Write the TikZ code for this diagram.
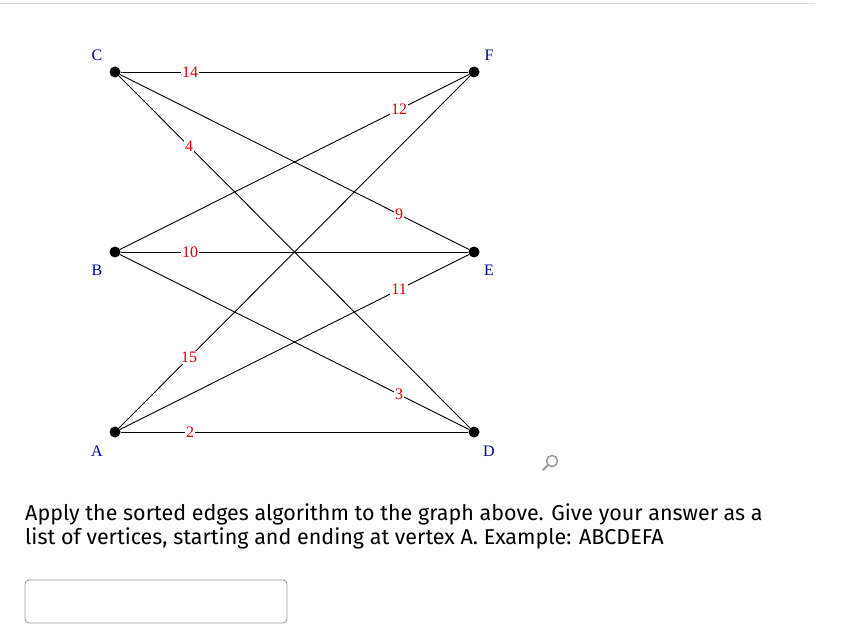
\documentclass[tikz,border=0pt]{standalone}
\usepackage{fontspec}
\newfontfamily\uifont{Fira Sans}
\setmainfont{Liberation Serif}
\begin{document}
\begin{tikzpicture}[x=1pt,y=-1pt,
  vtx/.style={circle,fill=black,inner sep=0pt,minimum size=11pt},
  vlab/.style={text=blue!60!black,font=\fontsize{16}{16}\selectfont},
  elab/.style={fill=white,text=red!85!black,inner sep=1pt,font=\fontsize{16}{16}\selectfont},
  edge/.style={draw=black,line width=0.9pt}]
\useasboundingbox (0,0) rectangle (850,639);
\draw[gray!30] (0,3) -- (815,3);
\node[vtx] (C) at (115,72) {};
\node[vtx] (F) at (474,72) {};
\node[vtx] (B) at (115,252) {};
\node[vtx] (E) at (474,252) {};
\node[vtx] (A) at (115,432) {};
\node[vtx] (D) at (474,432) {};
\node[vlab] (lC) at (97,55) {C};
\node[vlab] (lF) at (489,55) {F};
\node[vlab] (lB) at (97,270) {B};
\node[vlab] (lE) at (489,270) {E};
\node[vlab] (lA) at (97,451) {A};
\node[vlab] (lD) at (489,451) {D};
\path[edge] (C) -- node[elab,pos=0.2] {14} (F);
\path[edge] (C) -- node[elab,pos=0.2] {4} (D);
\path[edge] (C) -- node[elab,pos=0.8] {9} (E);
\path[edge] (B) -- node[elab,pos=0.8] {12} (F);
\path[edge] (B) -- node[elab,pos=0.2] {10} (E);
\path[edge] (B) -- node[elab,pos=0.8] {3} (D);
\path[edge] (A) -- node[elab,pos=0.2] {15} (F);
\path[edge] (A) -- node[elab,pos=0.8] {11} (E);
\path[edge] (A) -- node[elab,pos=0.2] {2} (D);
\draw[gray!80,line width=1.5pt] (552,461) circle (5.5);
\draw[gray!80,line width=2pt,line cap=round] (548,465) -- (543,470);
\node[anchor=north west,align=left,font=\uifont\fontsize{21.5}{24}\selectfont,inner sep=0pt] (txt) at (25,504)
 {Apply the sorted edges algorithm to the graph above. Give your answer as a\\list of vertices, starting and ending at vertex A. Example: ABCDEFA};
\draw[gray!80,line width=0.8pt,rounded corners=4pt] (25,580) rectangle (287,623);
\end{tikzpicture}
\end{document}
